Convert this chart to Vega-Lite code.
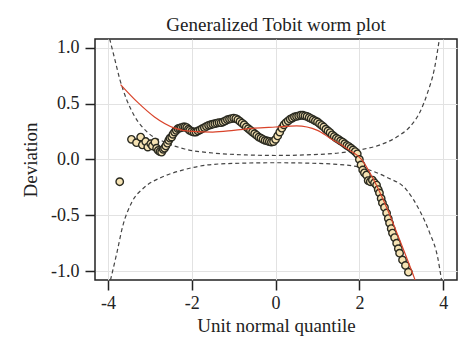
{
  "$schema": "https://vega.github.io/schema/vega-lite/v6.json",
  "width": 362,
  "height": 241,
  "autosize": {"type": "none"},
  "padding": {"left": 95, "top": 39, "right": 17, "bottom": 74},
  "background": "white",
  "title": {"text": "Generalized Tobit worm plot", "font": "Liberation Serif", "fontSize": 19, "fontWeight": "normal", "color": "#222", "anchor": "middle", "offset": 4},
  "config": {
    "view": {"stroke": "#222", "strokeWidth": 1.5},
    "axis": {"labelFont": "Liberation Serif", "labelFontSize": 18, "labelColor": "#222", "titleFont": "Liberation Serif", "titleFontSize": 19, "titleFontWeight": "normal", "titleColor": "#222", "tickColor": "#222", "tickSize": 10, "tickWidth": 1.5, "domain": false, "gridColor": "#e2e2e2", "gridWidth": 1}
  },
  "datasets": {
    "worm": [
      {"z": -3.72, "d": -0.20}, {"z": -3.44, "d": 0.18}, {"z": -3.32, "d": 0.15}, {"z": -3.22, "d": 0.20}, {"z": -3.18, "d": 0.13},
      {"z": -3.10, "d": 0.16}, {"z": -3.05, "d": 0.11}, {"z": -2.98, "d": 0.14}, {"z": -2.94, "d": 0.12}, {"z": -2.88, "d": 0.155},
      {"z": -2.84, "d": 0.10}, {"z": -2.80, "d": 0.08}, {"z": -2.76, "d": 0.07}, {"z": -2.72, "d": 0.065}, {"z": -2.68, "d": 0.09},
      {"z": -2.65, "d": 0.10}, {"z": -2.62, "d": 0.12}, {"z": -2.58, "d": 0.145}, {"z": -2.55, "d": 0.17}, {"z": -2.52, "d": 0.19},
      {"z": -2.48, "d": 0.20}, {"z": -2.45, "d": 0.225}, {"z": -2.41, "d": 0.245}, {"z": -2.37, "d": 0.26}, {"z": -2.33, "d": 0.275},
      {"z": -2.29, "d": 0.28}, {"z": -2.25, "d": 0.285}, {"z": -2.20, "d": 0.29}, {"z": -2.16, "d": 0.29}, {"z": -2.12, "d": 0.285},
      {"z": -2.08, "d": 0.27}, {"z": -2.05, "d": 0.26}, {"z": -2.00, "d": 0.25}, {"z": -1.95, "d": 0.245}, {"z": -1.90, "d": 0.245},
      {"z": -1.85, "d": 0.255}, {"z": -1.80, "d": 0.265}, {"z": -1.75, "d": 0.275}, {"z": -1.70, "d": 0.285}, {"z": -1.65, "d": 0.295},
      {"z": -1.60, "d": 0.305}, {"z": -1.55, "d": 0.31}, {"z": -1.50, "d": 0.315}, {"z": -1.45, "d": 0.32}, {"z": -1.40, "d": 0.325},
      {"z": -1.35, "d": 0.33}, {"z": -1.30, "d": 0.33}, {"z": -1.25, "d": 0.335}, {"z": -1.20, "d": 0.345}, {"z": -1.15, "d": 0.355},
      {"z": -1.10, "d": 0.36}, {"z": -1.05, "d": 0.365}, {"z": -1.00, "d": 0.37}, {"z": -0.95, "d": 0.365}, {"z": -0.90, "d": 0.355},
      {"z": -0.85, "d": 0.34}, {"z": -0.80, "d": 0.325}, {"z": -0.75, "d": 0.31}, {"z": -0.70, "d": 0.29}, {"z": -0.65, "d": 0.275},
      {"z": -0.60, "d": 0.26}, {"z": -0.55, "d": 0.245}, {"z": -0.50, "d": 0.23}, {"z": -0.45, "d": 0.215}, {"z": -0.40, "d": 0.20},
      {"z": -0.35, "d": 0.19}, {"z": -0.30, "d": 0.18}, {"z": -0.25, "d": 0.17}, {"z": -0.20, "d": 0.165}, {"z": -0.15, "d": 0.16},
      {"z": -0.10, "d": 0.155}, {"z": -0.05, "d": 0.16}, {"z": 0.00, "d": 0.18}, {"z": 0.05, "d": 0.21}, {"z": 0.10, "d": 0.245},
      {"z": 0.15, "d": 0.28}, {"z": 0.20, "d": 0.31}, {"z": 0.25, "d": 0.33}, {"z": 0.30, "d": 0.345}, {"z": 0.35, "d": 0.36},
      {"z": 0.40, "d": 0.37}, {"z": 0.45, "d": 0.38}, {"z": 0.50, "d": 0.385}, {"z": 0.55, "d": 0.39}, {"z": 0.60, "d": 0.395},
      {"z": 0.65, "d": 0.395}, {"z": 0.70, "d": 0.39}, {"z": 0.75, "d": 0.385}, {"z": 0.80, "d": 0.375}, {"z": 0.85, "d": 0.365},
      {"z": 0.90, "d": 0.355}, {"z": 0.95, "d": 0.345}, {"z": 1.00, "d": 0.335}, {"z": 1.05, "d": 0.32}, {"z": 1.10, "d": 0.305},
      {"z": 1.15, "d": 0.29}, {"z": 1.20, "d": 0.27}, {"z": 1.25, "d": 0.255}, {"z": 1.30, "d": 0.24}, {"z": 1.35, "d": 0.22},
      {"z": 1.40, "d": 0.205}, {"z": 1.45, "d": 0.19}, {"z": 1.50, "d": 0.18}, {"z": 1.55, "d": 0.165}, {"z": 1.60, "d": 0.155},
      {"z": 1.65, "d": 0.14}, {"z": 1.70, "d": 0.125}, {"z": 1.75, "d": 0.115}, {"z": 1.80, "d": 0.10}, {"z": 1.85, "d": 0.085},
      {"z": 1.90, "d": 0.07}, {"z": 1.95, "d": 0.05}, {"z": 2.00, "d": 0.00}, {"z": 2.04, "d": -0.05}, {"z": 2.08, "d": -0.095},
      {"z": 2.12, "d": -0.12}, {"z": 2.17, "d": -0.14}, {"z": 2.21, "d": -0.19}, {"z": 2.26, "d": -0.20}, {"z": 2.31, "d": -0.185},
      {"z": 2.36, "d": -0.21}, {"z": 2.41, "d": -0.23}, {"z": 2.45, "d": -0.27}, {"z": 2.48, "d": -0.30}, {"z": 2.52, "d": -0.35},
      {"z": 2.55, "d": -0.39}, {"z": 2.60, "d": -0.43}, {"z": 2.65, "d": -0.48}, {"z": 2.69, "d": -0.53}, {"z": 2.72, "d": -0.57},
      {"z": 2.76, "d": -0.62}, {"z": 2.79, "d": -0.66}, {"z": 2.84, "d": -0.70}, {"z": 2.89, "d": -0.75}, {"z": 2.93, "d": -0.80},
      {"z": 2.96, "d": -0.84}, {"z": 3.03, "d": -0.90}, {"z": 3.10, "d": -0.95}, {"z": 3.17, "d": -1.01}
    ],
    "fit": [
      {"z": -3.70, "d": 0.67}, {"z": -3.29, "d": 0.51}, {"z": -2.89, "d": 0.38}, {"z": -2.41, "d": 0.28}, {"z": -2.0, "d": 0.25},
      {"z": -1.5, "d": 0.245}, {"z": -1.0, "d": 0.26}, {"z": -0.5, "d": 0.28}, {"z": 0.0, "d": 0.29}, {"z": 0.5, "d": 0.30},
      {"z": 1.0, "d": 0.26}, {"z": 1.3, "d": 0.19}, {"z": 1.76, "d": 0.083}, {"z": 2.05, "d": 0.0}, {"z": 2.31, "d": -0.16},
      {"z": 2.65, "d": -0.43}, {"z": 2.96, "d": -0.72}, {"z": 3.27, "d": -1.02}, {"z": 3.33, "d": -1.08}
    ],
    "band": [
      {"side": "upper", "z": -3.96, "d": 1.08}, {"side": "upper", "z": -3.84, "d": 0.90}, {"side": "upper", "z": -3.72, "d": 0.72},
      {"side": "upper", "z": -3.56, "d": 0.54}, {"side": "upper", "z": -3.37, "d": 0.39}, {"side": "upper", "z": -3.05, "d": 0.24},
      {"side": "upper", "z": -2.65, "d": 0.155}, {"side": "upper", "z": -2.17, "d": 0.093}, {"side": "upper", "z": -1.5, "d": 0.057},
      {"side": "upper", "z": -0.7, "d": 0.04}, {"side": "upper", "z": 0.0, "d": 0.035}, {"side": "upper", "z": 0.7, "d": 0.04},
      {"side": "upper", "z": 1.5, "d": 0.057}, {"side": "upper", "z": 2.0, "d": 0.085}, {"side": "upper", "z": 2.48, "d": 0.128},
      {"side": "upper", "z": 2.89, "d": 0.20}, {"side": "upper", "z": 3.2, "d": 0.29}, {"side": "upper", "z": 3.44, "d": 0.42},
      {"side": "upper", "z": 3.63, "d": 0.60}, {"side": "upper", "z": 3.79, "d": 0.81}, {"side": "upper", "z": 3.91, "d": 1.08},
      {"side": "lower", "z": -3.94, "d": -1.08}, {"side": "lower", "z": -3.79, "d": -0.84}, {"side": "lower", "z": -3.65, "d": -0.60},
      {"side": "lower", "z": -3.44, "d": -0.39}, {"side": "lower", "z": -3.13, "d": -0.25}, {"side": "lower", "z": -2.72, "d": -0.16},
      {"side": "lower", "z": -2.22, "d": -0.096}, {"side": "lower", "z": -1.5, "d": -0.045}, {"side": "lower", "z": -0.7, "d": -0.033},
      {"side": "lower", "z": 0.0, "d": -0.03}, {"side": "lower", "z": 0.7, "d": -0.033}, {"side": "lower", "z": 1.5, "d": -0.045},
      {"side": "lower", "z": 2.0, "d": -0.07}, {"side": "lower", "z": 2.65, "d": -0.16}, {"side": "lower", "z": 3.12, "d": -0.27},
      {"side": "lower", "z": 3.44, "d": -0.46}, {"side": "lower", "z": 3.68, "d": -0.66}, {"side": "lower", "z": 3.87, "d": -0.88},
      {"side": "lower", "z": 3.96, "d": -1.08}
    ]
  },
  "encoding": {
    "x": {"field": "z", "type": "quantitative", "scale": {"domain": [-4.31, 4.33], "nice": false, "zero": false},
      "axis": {"values": [-4, -2, 0, 2, 4], "title": "Unit normal quantile", "labelPadding": 4, "titlePadding": 4, "format": "d", "labelExpr": "replace(datum.label, '\u2212', '-')"}},
    "y": {"field": "d", "type": "quantitative", "scale": {"domain": [-1.08, 1.078], "nice": false, "zero": false},
      "axis": {"values": [-1, -0.5, 0, 0.5, 1], "format": ".1f", "title": "Deviation", "labelPadding": 6, "titlePadding": 10, "labelExpr": "replace(datum.label, '\u2212', '-')"}}
  },
  "layer": [
    {"mark": {"type": "rule", "color": "#e0603c", "strokeDash": [5, 3], "strokeWidth": 1}, "encoding": {"x": {"datum": 0}, "y": null}},
    {"mark": {"type": "rule", "color": "#e0603c", "strokeDash": [5, 3], "strokeWidth": 1}, "encoding": {"y": {"datum": 0}, "x": null}},
    {"data": {"name": "band"}, "mark": {"type": "line", "color": "#444", "strokeDash": [4, 3], "strokeWidth": 1.2, "clip": true, "interpolate": "monotone"},
      "encoding": {"detail": {"field": "side"}}},
    {"data": {"name": "worm"}, "mark": {"type": "point", "shape": "circle", "filled": true, "fill": "#f6e3b4", "stroke": "#2a2a20", "strokeWidth": 1.4, "size": 55, "opacity": 1}},
    {"data": {"name": "fit"}, "mark": {"type": "line", "color": "#d9432a", "strokeWidth": 1.2, "clip": true, "interpolate": "monotone"}}
  ]
}
